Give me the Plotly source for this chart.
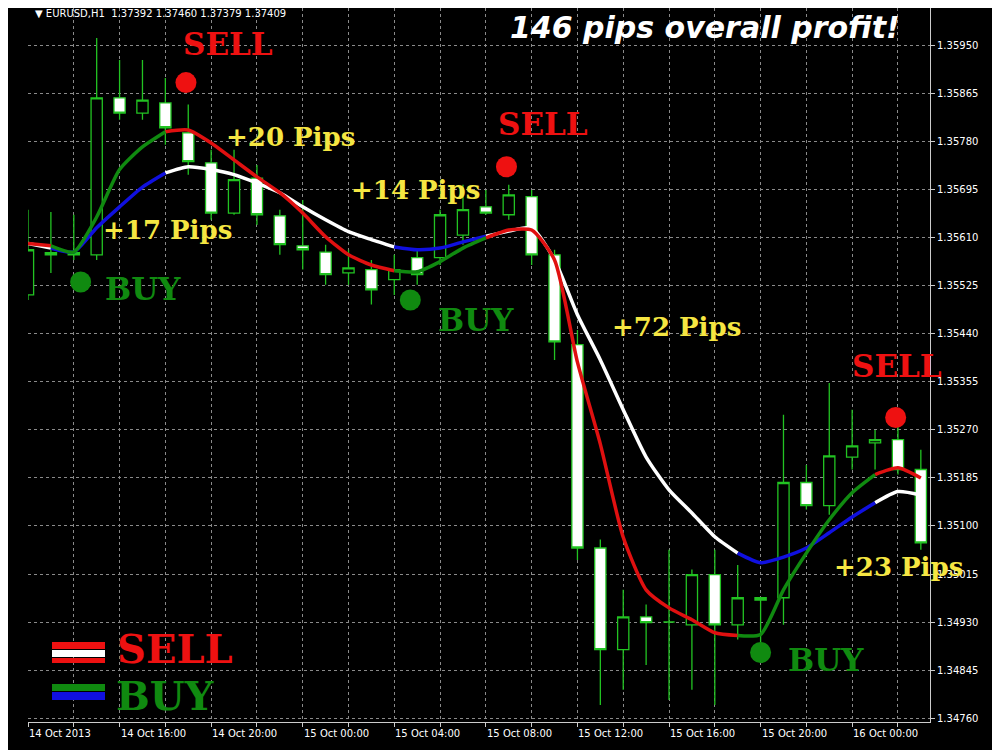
import plotly.graph_objects as go

hours = list(range(40))
opens  = [1.35509,1.35584,1.35580,1.35580,1.35858,1.35831,1.35849,1.35796,1.35743,1.35654,
          1.35716,1.35649,1.35596,1.35585,1.35548,1.35554,1.35536,1.35575,1.35575,1.35615,
          1.35665,1.35651,1.35683,1.35580,1.35421,1.35061,1.34881,1.34939,1.34930,1.34925,
          1.35014,1.34925,1.34969,1.34973,1.35177,1.35136,1.35222,1.35247,1.35253,1.35200]
highs  = [1.35660,1.35656,1.35651,1.35964,1.35925,1.35925,1.35893,1.35846,1.35766,1.35766,
          1.35739,1.35660,1.35677,1.35598,1.35589,1.35571,1.35580,1.35592,1.35660,1.35704,
          1.35695,1.35704,1.35695,1.35589,1.35447,1.35076,1.34987,1.34961,1.35058,1.35023,
          1.35058,1.35031,1.34973,1.35297,1.35208,1.35353,1.35306,1.35270,1.35279,1.35235]
lows   = [1.35500,1.35548,1.35571,1.35571,1.35819,1.35819,1.35775,1.35722,1.35642,1.35651,
          1.35633,1.35580,1.35554,1.35527,1.35527,1.35492,1.35509,1.35527,1.35562,1.35598,
          1.35651,1.35642,1.35562,1.35394,1.35040,1.34783,1.34810,1.34854,1.34792,1.34810,
          1.34783,1.34899,1.34881,1.34925,1.35129,1.35120,1.35200,1.35200,1.35191,1.35058]
closes = [1.35589,1.35580,1.35584,1.35858,1.35831,1.35854,1.35805,1.35745,1.35654,1.35713,
          1.35651,1.35598,1.35589,1.35545,1.35557,1.35518,1.35554,1.35545,1.35651,1.35660,
          1.35654,1.35686,1.35580,1.35426,1.35061,1.34881,1.34939,1.34929,1.34930,1.35014,
          1.34925,1.34973,1.34973,1.35177,1.35136,1.35224,1.35242,1.35253,1.35200,1.35070]
fast = [1.35600,1.35596,1.35585,1.35647,1.35731,1.35771,1.35798,1.35801,1.35778,1.35748,
        1.35718,1.35690,1.35654,1.35612,1.35580,1.35562,1.35552,1.35550,1.35568,1.35592,
        1.35610,1.35624,1.35624,1.35571,1.35390,1.35245,1.35080,1.34987,1.34955,1.34934,
        1.34911,1.34906,1.34908,1.34987,1.35052,1.35111,1.35159,1.35191,1.35203,1.35185]
slow = [1.35600,1.35592,1.35585,1.35628,1.35665,1.35700,1.35725,1.35736,1.35731,1.35722,
        1.35707,1.35690,1.35665,1.35642,1.35621,1.35607,1.35594,1.35589,1.35592,1.35603,
        1.35613,1.35622,1.35628,1.35571,1.35474,1.35394,1.35306,1.35222,1.35164,1.35123,
        1.35081,1.35052,1.35035,1.35045,1.35061,1.35088,1.35116,1.35141,1.35161,1.35155]
switches = [(0, "sell"), (2, "buy"), (7, "sell"), (17, "buy"), (21, "sell"), (32, "buy"), (38, "sell")]

sig_hours  = [2.3, 6.9, 16.7, 20.9, 32.0, 37.9]
sig_prices = [1.35532, 1.35885, 1.35500, 1.35736, 1.34876, 1.35292]
sig_types  = ["buy", "sell", "buy", "sell", "buy", "sell"]
pips_text  = ["+17 Pips", "+20 Pips", "+14 Pips", "+72 Pips", "+23 Pips"]

ytick_vals = [1.34760,1.34845,1.34930,1.35015,1.35100,1.35185,1.35270,1.35355,
              1.35440,1.35525,1.35610,1.35695,1.35780,1.35865,1.35950]
xlabel_hours = [0, 4, 8, 12, 16, 20, 24, 28, 32, 36]
xtick_labels = ["14 Oct 2013","14 Oct 16:00","14 Oct 20:00","15 Oct 00:00","15 Oct 04:00",
                "15 Oct 08:00","15 Oct 12:00","15 Oct 16:00","15 Oct 20:00","16 Oct 00:00"]

state = []
for h in hours:
    s = None
    for sh, st in switches:
        if h >= sh:
            s = st
    state.append(s)

def seg(values, want):
    out = []
    for i, h in enumerate(hours):
        on = state[i] == want or (i + 1 < len(hours) and state[i + 1] == want)
        out.append(values[i] if on else None)
    return out

fig = go.Figure()
fig.add_trace(go.Candlestick(
    x=hours, open=opens, high=highs, low=lows, close=closes,
    increasing=dict(line=dict(color="#22c322", width=1.3), fillcolor="black"),
    decreasing=dict(line=dict(color="#22c322", width=1.3), fillcolor="white"),
    whiskerwidth=0, showlegend=False, hoverinfo="skip"))

for vals, want, col in [(slow, "sell", "white"), (slow, "buy", "#1010e0"),
                        (fast, "sell", "#e01010"), (fast, "buy", "#108a10")]:
    fig.add_trace(go.Scatter(x=hours, y=seg(vals, want), mode="lines",
                             line=dict(color=col, width=3.5, shape="spline", smoothing=0.6),
                             showlegend=False, connectgaps=False, hoverinfo="skip"))

dot_cols = ["#108a10" if t == "buy" else "#ee1111" for t in sig_types]
fig.add_trace(go.Scatter(x=sig_hours, y=sig_prices, mode="markers",
                         marker=dict(color=dot_cols, size=21), showlegend=False, hoverinfo="skip"))

# screen pixel -> paper (page body has an 8px offset)
def P(x, y):
    return (x - 28) / 902, (722 - y) / 714

serif = "DejaVu Serif"
labels = [
    ("SELL", 228, 44, "#ee1111", 31), ("SELL", 543, 124, "#ee1111", 31), ("SELL", 897, 366, "#ee1111", 31),
    ("BUY", 143, 289, "#108a10", 31), ("BUY", 476, 320, "#108a10", 31), ("BUY", 826, 660, "#108a10", 31),
    (pips_text[0], 167, 230, "#f5e642", 26), (pips_text[1], 290, 137, "#f5e642", 26),
    (pips_text[2], 415, 190, "#f5e642", 26), (pips_text[3], 676, 327, "#f5e642", 26),
    (pips_text[4], 898, 567, "#f5e642", 26),
    ("SELL", 175, 648, "#ee1111", 40), ("BUY", 165, 695, "#108a10", 40),
]
anns = []
for t, x, y, c, s in labels:
    px, py = P(x, y)
    anns.append(dict(text="<b>%s</b>" % t, x=px, y=py, xref="paper", yref="paper",
                     xanchor="center", yanchor="middle",
                     showarrow=False, font=dict(family=serif, size=s, color=c)))
px, py = P(705, 27)
anns.append(dict(text="<b><i>146 pips overall profit!</i></b>", x=px, y=py, xref="paper", yref="paper",
                 xanchor="center", yanchor="middle",
                 showarrow=False, font=dict(family="DejaVu Sans", size=30, color="white")))
px, py = P(33, 14)
anns.append(dict(text="▼ EURUSD,H1  1.37392 1.37460 1.37379 1.37409", x=px, y=py, xref="paper",
                 yref="paper", xanchor="left", yanchor="middle", showarrow=False,
                 font=dict(family="DejaVu Sans", size=10, color="white")))
for h, t in zip(xlabel_hours, xtick_labels):
    anns.append(dict(text=t, x=h, y=-0.006, xref="x", yref="paper", xanchor="left", yanchor="top",
                     xshift=-1, showarrow=False,
                     font=dict(family="DejaVu Sans", size=10, color="white")))

shapes = []
for (y0, y1, c) in [(642, 649, "#ee1111"), (650, 657, "white"), (658, 663, "#ee1111"),
                    (684, 691, "#108a10"), (692, 700, "#1010e0")]:
    a0, b0 = P(52, y1)
    a1, b1 = P(105, y0)
    shapes.append(dict(type="rect", xref="paper", yref="paper", x0=a0, x1=a1, y0=b0, y1=b1,
                       fillcolor=c, line=dict(width=0)))

fig.update_layout(
    width=1000, height=750, paper_bgcolor="black", plot_bgcolor="black",
    margin=dict(l=20, r=78, t=0, b=36),
    annotations=anns, shapes=shapes,
    xaxis=dict(range=[0, 39.4], tickmode="array", tickvals=list(range(0, 40, 2)),
               showticklabels=False, showgrid=True, gridcolor="#8a8a8a", griddash="dot",
               gridwidth=1, rangeslider=dict(visible=False), showline=True, linecolor="#cccccc",
               ticks="outside", ticklen=4, tickcolor="#cccccc", automargin=False, zeroline=False),
    yaxis=dict(range=[1.34753, 1.36017], side="right", tickmode="array", tickvals=ytick_vals,
               ticktext=["%.5f" % v for v in ytick_vals], showgrid=True, gridcolor="#8a8a8a",
               griddash="dot", showline=True, linecolor="#cccccc", ticks="outside", ticklen=4,
               tickcolor="#cccccc", automargin=False,
               tickfont=dict(family="DejaVu Sans", size=10, color="white"), zeroline=False),
)
fig.write_html("out.html")
